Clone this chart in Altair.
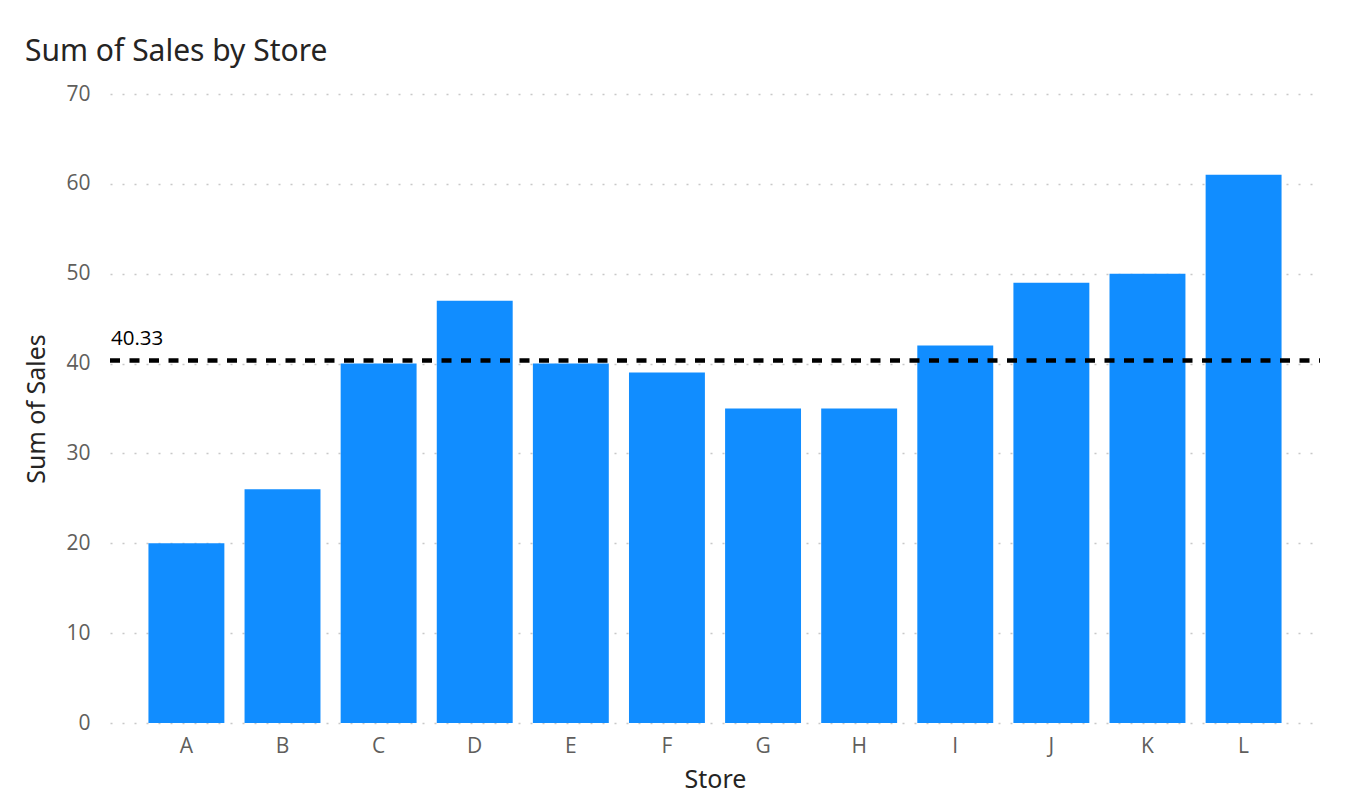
import altair as alt
import pandas as pd

stores = ["A", "B", "C", "D", "E", "F", "G", "H", "I", "J", "K", "L"]
sales = [20, 26, 40, 47, 40, 39, 35, 35, 42, 49, 50, 61]
y_ticks = [0, 10, 20, 30, 40, 50, 60, 70]

df = pd.DataFrame({"Store": stores, "Sales": sales})

base = alt.Chart(df)

bars = base.mark_bar(color="#118DFF").encode(
    x=alt.X(
        "Store:N",
        sort=stores,
        title="Store",
        scale=alt.Scale(paddingInner=0.21, paddingOuter=0.4),
        axis=alt.Axis(
            labelAngle=0,
            ticks=False,
            domain=False,
            grid=False,
            labelFont="Open Sans",
            labelFontSize=21,
            labelColor="#605E5C",
            labelPadding=12,
            titleFont="Noto Sans",
            titleFontSize=25,
            titleFontWeight="normal",
            titleColor="#252423",
            titlePadding=11,
        ),
    ),
    y=alt.Y(
        "Sales:Q",
        title="Sum of Sales",
        scale=alt.Scale(domain=[0, 70], nice=False),
        axis=alt.Axis(
            values=y_ticks,
            ticks=False,
            domain=False,
            grid=True,
            gridDash=[2, 10],
            gridColor="#C8C8C8",
            gridWidth=1.5,
            labelFont="Open Sans",
            labelFontSize=21,
            labelColor="#605E5C",
            labelPadding=20,
            titleFont="Noto Sans",
            titleFontSize=25,
            titleFontWeight="normal",
            titleColor="#252423",
            titlePadding=16,
        ),
    ),
)

avg_rule = base.mark_rule(
    color="black", strokeWidth=4.5, strokeDash=[10, 9.5]
).encode(
    y="mean(Sales):Q",
    x=alt.value(0),
    x2=alt.value(1210),
)

avg_text = base.mark_text(
    align="left", baseline="alphabetic", dx=1, dy=-16,
    font="Open Sans", fontSize=20.5, color="black",
).encode(
    y="mean(Sales):Q",
    x=alt.value(0),
    text=alt.Text("mean(Sales):Q", format=".2f"),
)

chart = (
    alt.layer(bars, avg_rule, avg_text)
    .properties(
        width=1210,
        height=629,
        title=alt.TitleParams(
            "Sum of Sales by Store",
            anchor="start",
            frame="group",
            font="Noto Sans",
            fontSize=30,
            fontWeight="normal",
            color="#252423",
            dx=-85,
            dy=-12,
        ),
        autosize=alt.AutoSizeParams(type="none"),
        padding={"left": 102, "top": 86, "right": 30, "bottom": 72},
    )
    .configure_view(strokeWidth=0)
)

chart.save("out.html", embed_options={"renderer": "svg", "actions": False})
